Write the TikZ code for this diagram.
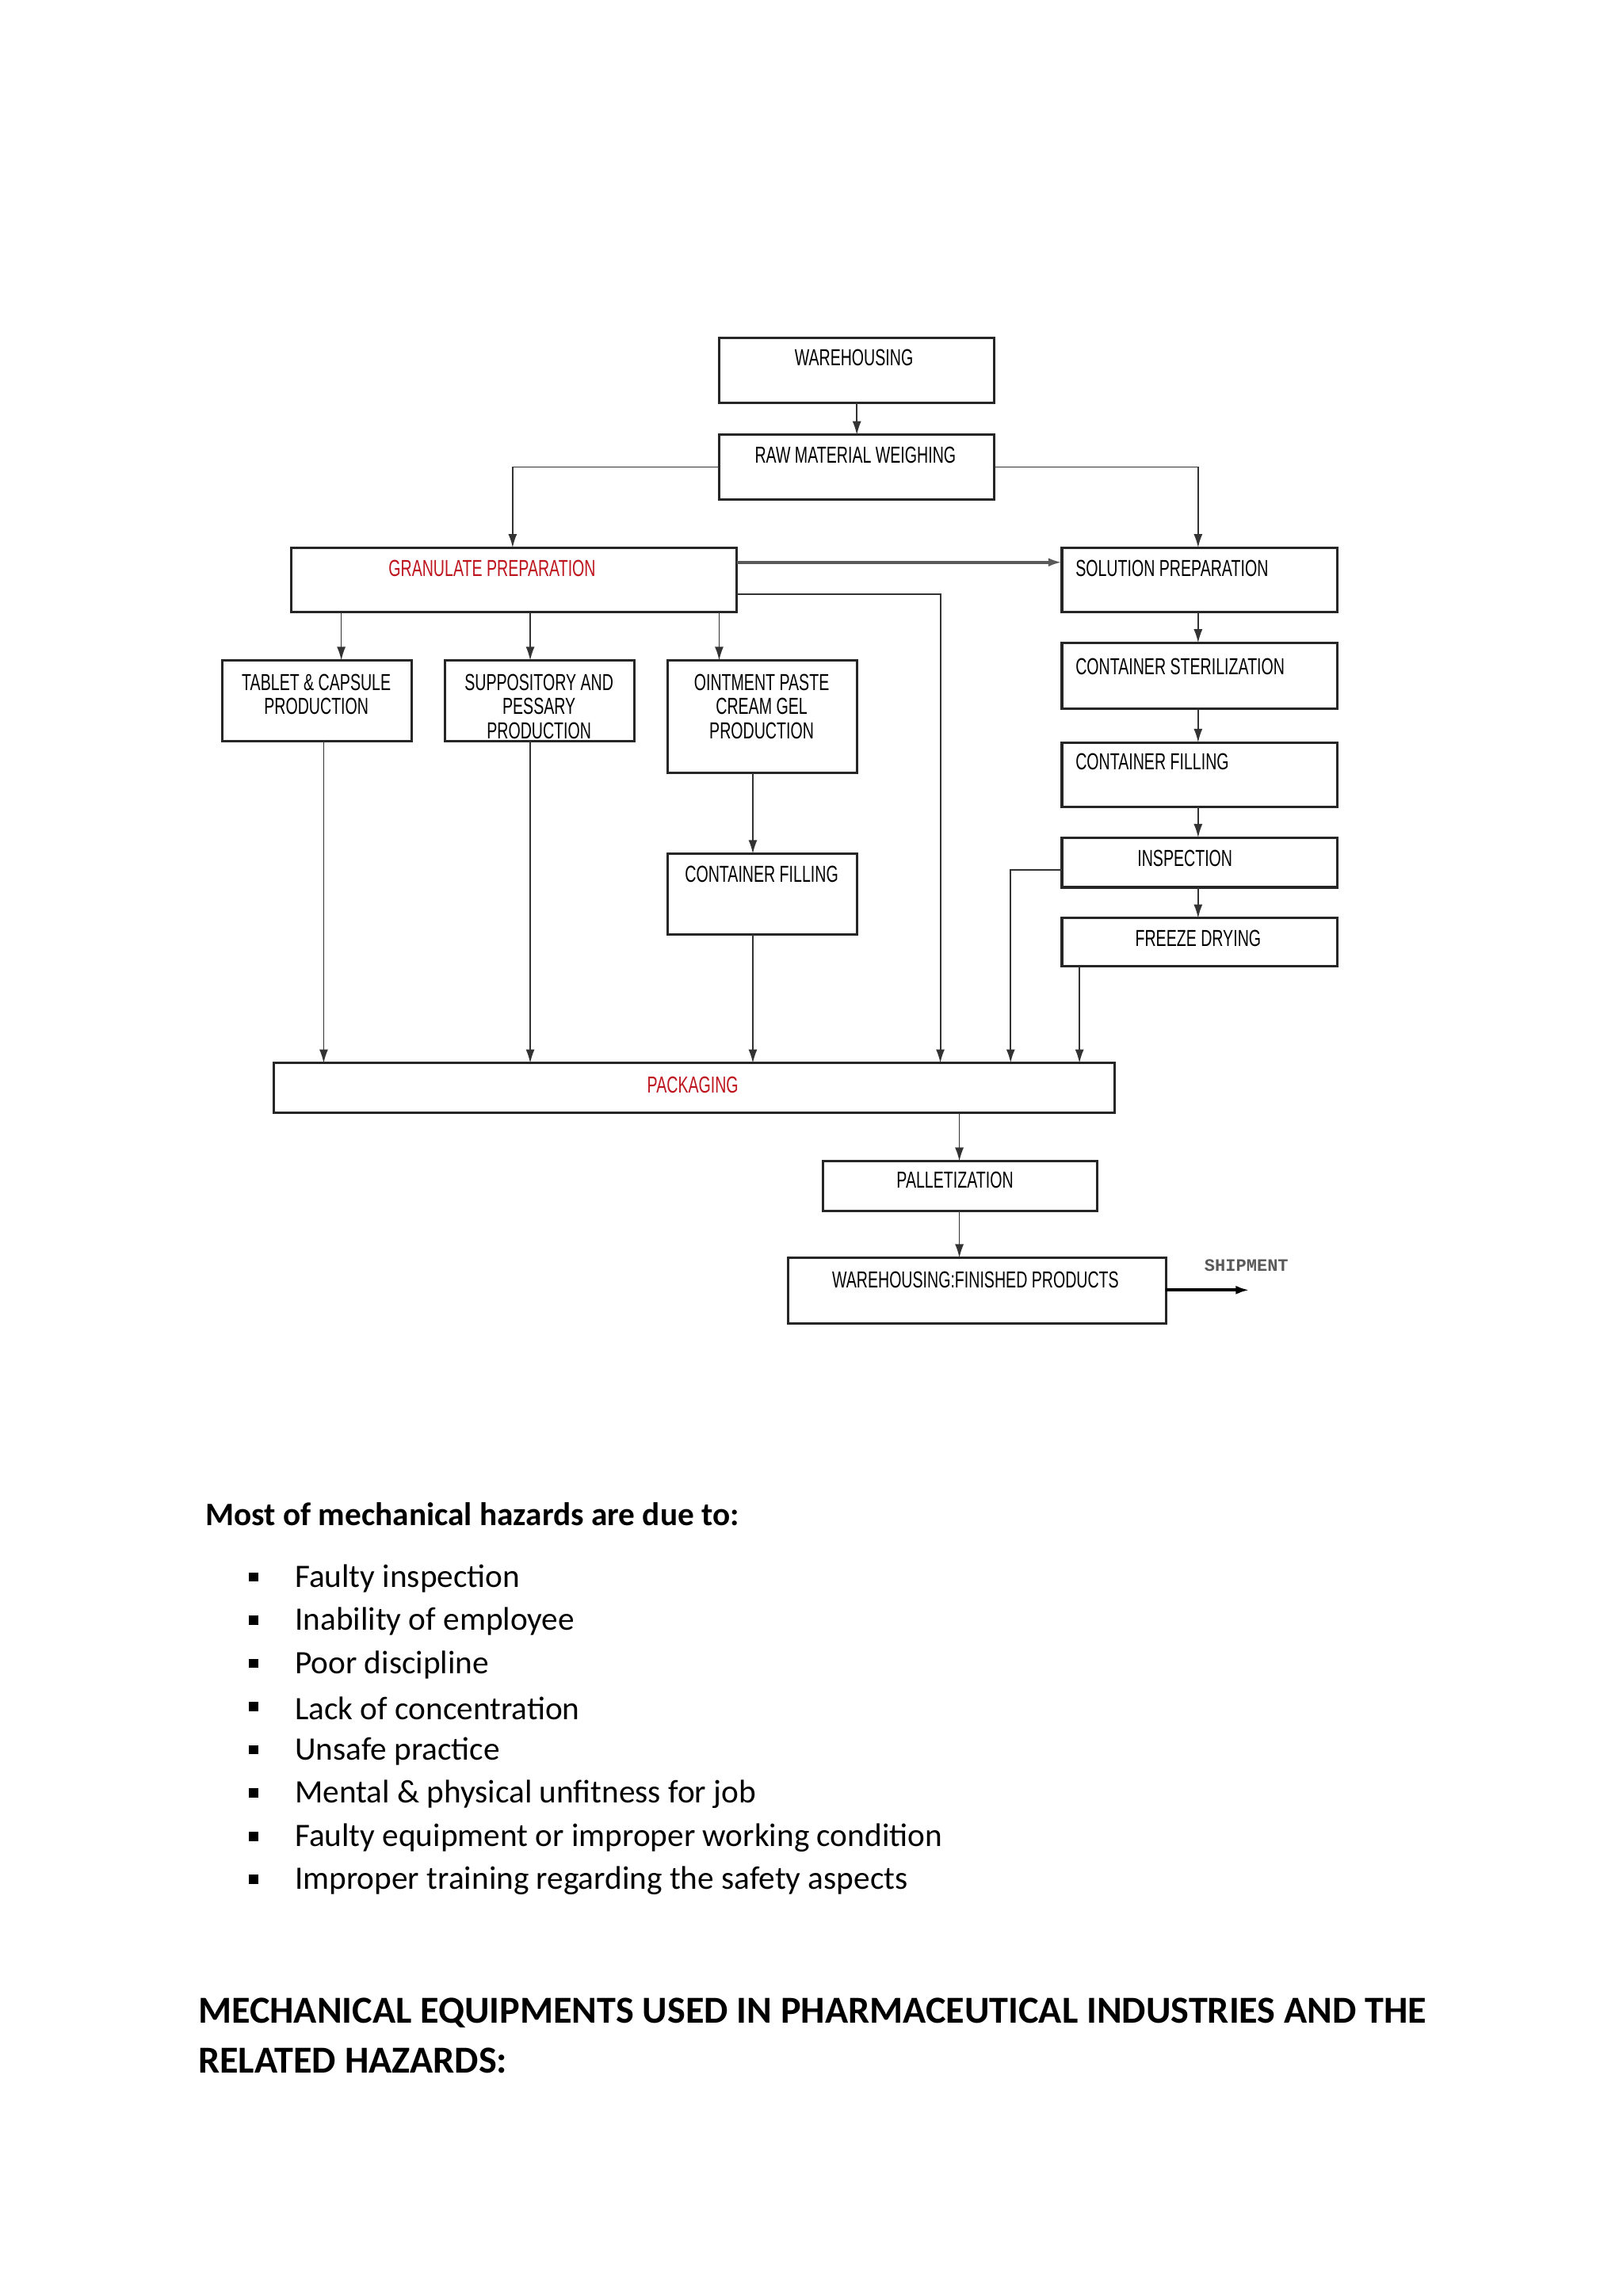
\documentclass[tikz,border=0pt]{standalone}
\usepackage{fontspec}
\setmainfont{Carlito}
\newfontfamily\dgfont[FakeStretch=0.67]{Liberation Sans}
\newfontfamily\shipfont{Liberation Mono}
\usetikzlibrary{calc,arrows.meta}
\definecolor{dred}{RGB}{190,20,30}
\tikzset{
  box/.style={draw=black!85, line width=0.9pt, inner sep=0pt, outer sep=0pt, anchor=north west},
  lbl/.style={font=\dgfont\fontsize{8.5}{8.9}\selectfont, inner sep=0pt, align=center},
  lbll/.style={lbl, anchor=west},
  conn/.style={draw=black!80, line width=0.5pt},
  arr/.style={conn, -{Latex[length=5pt,width=3.2pt]}},
  bul/.style={fill=black, minimum size=3.4pt, inner sep=0pt},
  itm/.style={font=\fontsize{12}{14}\selectfont, anchor=west, inner sep=0pt},
}
\begin{document}
\begin{tikzpicture}[x=0.5373pt, y=-0.5373pt]
\useasboundingbox[fill=white] (0,0) rectangle (1108,1568);
% boxes
\node[box, minimum width=188*0.5373pt, minimum height=44*0.5373pt] (wh) at (491,231) {};
\node[box, minimum width=188*0.5373pt, minimum height=44*0.5373pt] (rmw) at (491,297) {};
\node[box, minimum width=304*0.5373pt, minimum height=44*0.5373pt] (gp) at (199,374) {};
\node[box, minimum width=188*0.5373pt, minimum height=44*0.5373pt] (sp) at (725,374) {};
\node[box, minimum width=129*0.5373pt, minimum height=55*0.5373pt] (tc) at (152,451) {};
\node[box, minimum width=129*0.5373pt, minimum height=55*0.5373pt] (sup) at (304,451) {};
\node[box, minimum width=129*0.5373pt, minimum height=77*0.5373pt] (oint) at (456,451) {};
\node[box, minimum width=129*0.5373pt, minimum height=55*0.5373pt] (cfl) at (456,583) {};
\node[box, minimum width=188*0.5373pt, minimum height=45*0.5373pt] (cst) at (725,439) {};
\node[box, minimum width=188*0.5373pt, minimum height=44*0.5373pt] (cfr) at (725,507) {};
\node[box, minimum width=188*0.5373pt, minimum height=34*0.5373pt] (insp) at (725,572) {};
\node[box, minimum width=188*0.5373pt, minimum height=33*0.5373pt] (fd) at (725,627) {};
\node[box, minimum width=574*0.5373pt, minimum height=34*0.5373pt] (pk) at (187,726) {};
\node[box, minimum width=187*0.5373pt, minimum height=34*0.5373pt] (pal) at (562,793) {};
\node[box, minimum width=258*0.5373pt, minimum height=45*0.5373pt] (wfp) at (538,859) {};
% labels
\node[lbl] (twh) at (583,244) {WAREHOUSING};
\node[lbl] (trmw) at (584,311) {RAW MATERIAL WEIGHING};
\node[lbl, text=dred] (tgp) at (336,388) {GRANULATE PREPARATION};
\node[lbll] (tsp) at (734,388) {SOLUTION PREPARATION};
\node[lbl, anchor=north] (ttc) at (216,460) {TABLET \& CAPSULE\\PRODUCTION};
\node[lbl, anchor=north] (tsup) at (368,460) {SUPPOSITORY AND\\PESSARY\\PRODUCTION};
\node[lbl, anchor=north] (toint) at (520,460) {OINTMENT PASTE\\CREAM GEL\\PRODUCTION};
\node[lbl] (tcfl) at (520,597) {CONTAINER FILLING};
\node[lbll] (tcst) at (734,455) {CONTAINER STERILIZATION};
\node[lbll] (tcfr) at (734,520) {CONTAINER FILLING};
\node[lbl] (tinsp) at (809,586) {INSPECTION};
\node[lbl] (tfd) at (818,641) {FREEZE DRYING};
\node[lbl, text=dred] (tpk) at (473,741) {PACKAGING};
\node[lbl] (tpal) at (652,806) {PALLETIZATION};
\node[lbl] (twfp) at (666,874) {WAREHOUSING:FINISHED PRODUCTS};
\node[font=\shipfont\bfseries\fontsize{6.4}{7}\selectfont, text=black!65, inner sep=0pt] (ship) at (851,864) {SHIPMENT};
\coordinate (shipend) at (853,881);
% connectors
\draw[arr] (wh.south -| 585,0) -- (rmw.north -| 585,0);
\draw[arr] (rmw.west) -| (gp.north -| 350,0);
\draw[arr] (rmw.east) -| (sp.north -| 818,0);
\draw[arr, line width=1.1pt, draw=black!65] (gp.east |- 0,384) -- (sp.west |- 0,384);
\draw[arr, line width=0.6pt] (gp.east |- 0,406) -- (642,406) -- (pk.north -| 642,0);
\draw[arr] (gp.south -| 233,0) -- (tc.north -| 233,0);
\draw[arr] (gp.south -| 362,0) -- (sup.north -| 362,0);
\draw[arr] (gp.south -| 491,0) -- (oint.north -| 491,0);
\draw[arr] (oint.south -| 514,0) -- (cfl.north -| 514,0);
\draw[arr] (cfl.south -| 514,0) -- (pk.north -| 514,0);
\draw[arr] (tc.south -| 221,0) -- (pk.north -| 221,0);
\draw[arr] (sup.south -| 362,0) -- (pk.north -| 362,0);
\draw[arr] (sp.south -| 818,0) -- (cst.north -| 818,0);
\draw[arr] (cst.south -| 818,0) -- (cfr.north -| 818,0);
\draw[arr] (cfr.south -| 818,0) -- (insp.north -| 818,0);
\draw[arr] (insp.south -| 818,0) -- (fd.north -| 818,0);
\draw[arr, line width=0.7pt] (insp.west |- 0,594) -- (690,594) -- (pk.north -| 690,0);
\draw[arr] (fd.south -| 737,0) -- (pk.north -| 737,0);
\draw[arr] (pk.south -| 655,0) -- (pal.north -| 655,0);
\draw[arr] (pal.south -| 655,0) -- (wfp.north -| 655,0);
\draw[arr, line width=1.1pt, draw=black] (wfp.east |- 0,881) -- (shipend);
% text
\node[font=\bfseries\fontsize{12}{14}\selectfont, anchor=west, inner sep=0pt] (hz) at (140,1034) {Most of mechanical hazards are due to:};
\foreach \t [count=\i] in {Faulty inspection, Inability of employee, Poor discipline, Lack of concentration, Unsafe practice, Mental \& physical unfitness for job, Faulty equipment or improper working condition, Improper training regarding the safety aspects}{
  \node[bul] (b\i) at (173,{1077+29.5*(\i-1)}) {};
  \node[itm] (i\i) at (201,{1078+29.5*(\i-1)}) {\t};
}
\node[font=\bfseries\fontsize{14}{18.3}\selectfont, anchor=north west, inner sep=0pt, align=left] (ttl) at (135,1364) {MECHANICAL EQUIPMENTS USED IN PHARMACEUTICAL INDUSTRIES AND THE\\RELATED HAZARDS:};
\end{tikzpicture}
\end{document}
